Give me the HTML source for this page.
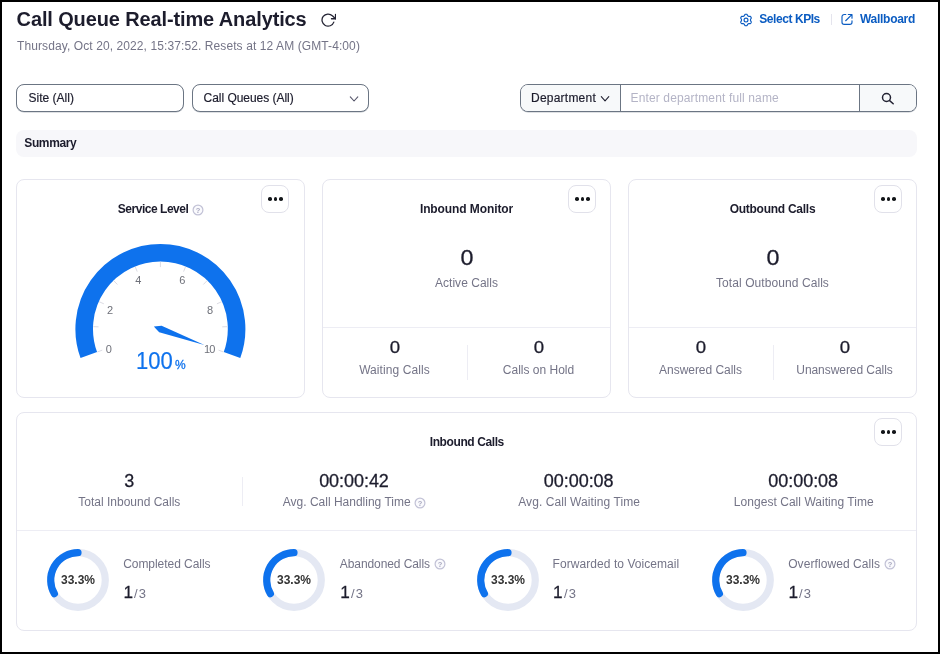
<!DOCTYPE html>
<html lang="en">
<head>
<meta charset="utf-8">
<title>Call Queue Real-time Analytics</title>
<style>
*{box-sizing:border-box;margin:0;padding:0}
html,body{width:940px;height:654px;overflow:hidden;background:#fff}
body{font-family:"Liberation Sans",sans-serif;color:#1c1c2c;position:relative}
.frame{position:absolute;left:0;top:0;width:940px;height:654px;border:2px solid #000;z-index:50;pointer-events:none}
.a{position:absolute}
.t{position:absolute;white-space:nowrap;color:#1c1c2c}
.m{-webkit-text-stroke:0.28px currentColor}
.d{-webkit-text-stroke:0.18px currentColor}
.box{position:absolute;top:84px;height:28px;border:1px solid #6b7583;border-radius:8px;background:#fff;box-shadow:0 .5px 0 rgba(107,117,131,.45)}
.card{position:absolute;border:1px solid #e6e6ef;border-radius:8px;background:#fff}
.more{position:absolute;width:28px;height:28px;border:1px solid #e1e1ea;border-radius:8px;background:#fff}
.more i{position:absolute;top:11.300px;width:3.600px;height:3.600px;border-radius:50%;background:#131619}
</style>
</head>
<body>
<div class="t" style="top:9.07px;font-size:20px;line-height:20px;font-weight:700;letter-spacing:-0.127px;left:16.6px;transform:scaleY(1.05);transform-origin:0 84.650%;">Call Queue Real-time Analytics</div>
<svg class="a" style="left:319.800px;top:11.900px" width="16.200" height="16.200" viewBox="0 0 24 24" fill="none" stroke="#232333" stroke-width="1.900" stroke-linecap="round" stroke-linejoin="round"><path d="M23 3.500V10H17"/><path d="M20.490 15a9 9 0 1 1-2.120-9.360L23 10"/></svg>
<div class="t" style="top:39.84px;font-size:12px;line-height:12px;color:#747487;letter-spacing:0.095px;left:17px;">Thursday, Oct 20, 2022, 15:37:52. Resets at 12 AM (GMT-4:00)</div>
<svg class="a" style="left:739px;top:12.600px" width="14" height="14" viewBox="0 0 14 14" fill="none" stroke="#0b5cc2" stroke-width="1.150" stroke-linejoin="round"><path d="M11.50 7.00L11.50 6.71L11.51 6.41L11.62 6.08L11.95 5.67L12.24 5.22L12.26 4.82L12.14 4.46L11.97 4.13L11.77 3.82L11.52 3.54L11.16 3.35L10.62 3.38L10.10 3.46L9.77 3.39L9.50 3.25L9.25 3.10L8.99 2.96L8.74 2.80L8.51 2.54L8.33 2.05L8.08 1.57L7.74 1.36L7.37 1.28L7.00 1.26L6.63 1.28L6.26 1.36L5.92 1.57L5.67 2.05L5.49 2.54L5.26 2.80L5.01 2.96L4.75 3.10L4.50 3.25L4.23 3.39L3.90 3.46L3.38 3.38L2.84 3.35L2.48 3.54L2.23 3.82L2.03 4.13L1.86 4.46L1.74 4.82L1.76 5.22L2.05 5.67L2.38 6.08L2.49 6.41L2.50 6.71L2.50 7.00L2.50 7.29L2.49 7.59L2.38 7.92L2.05 8.33L1.76 8.78L1.74 9.18L1.86 9.54L2.03 9.87L2.23 10.18L2.48 10.46L2.84 10.65L3.38 10.62L3.90 10.54L4.23 10.61L4.50 10.75L4.75 10.90L5.01 11.04L5.26 11.20L5.49 11.46L5.67 11.95L5.92 12.43L6.26 12.64L6.63 12.72L7.00 12.74L7.37 12.72L7.74 12.64L8.08 12.43L8.33 11.95L8.51 11.46L8.74 11.20L8.99 11.04L9.25 10.90L9.50 10.75L9.77 10.61L10.10 10.54L10.62 10.62L11.16 10.65L11.52 10.46L11.77 10.18L11.97 9.87L12.14 9.54L12.26 9.18L12.24 8.78L11.95 8.33L11.62 7.92L11.51 7.59L11.50 7.29Z"/><circle cx="7" cy="7" r="1.950"/></svg>
<div class="t" style="top:12.94px;font-size:12px;line-height:12px;font-weight:700;color:#0b5cc2;letter-spacing:-0.44px;left:759.3px;">Select KPIs</div>
<div class="a" style="left:831px;top:14px;width:1px;height:11px;background:#e4e4ed"></div>
<svg class="a" style="left:840px;top:12px" width="14" height="14" viewBox="0 0 14 14" fill="none" stroke="#0b5cc2" stroke-width="1.150" stroke-linecap="round" stroke-linejoin="round"><path d="M5.800 2.450H4.200A2.200 2.200 0 0 0 2 4.650V10.200A2.200 2.200 0 0 0 4.200 12.400H9.800A2.200 2.200 0 0 0 12 10.200V8.700"/><path d="M8.300 2.450H12V6.200M11.800 2.650 5.700 8.750"/></svg>
<div class="t" style="top:12.94px;font-size:12px;line-height:12px;font-weight:700;color:#0b5cc2;letter-spacing:-0.285px;left:860px;">Wallboard</div>
<div class="box" style="left:16px;width:168px"></div>
<div class="t d" style="top:91.84px;font-size:12px;line-height:12px;left:28.6px;">Site (All)</div>
<div class="box" style="left:192px;width:177px"></div>
<div class="t d" style="top:91.84px;font-size:12px;line-height:12px;letter-spacing:-0.04px;left:203.6px;">Call Queues (All)</div>
<svg class="a" style="left:348px;top:94px" width="12" height="10" viewBox="0 0 12 10" fill="none" stroke="#55556a" stroke-width="1.100" stroke-linecap="round" stroke-linejoin="round"><path d="M2.300 2.900 6.050 7l3.750-4.100"/></svg>
<div class="box" style="left:520px;width:397px;overflow:hidden"><div class="a" style="left:0;top:0;width:99px;height:26px;background:#f7f9fa"></div><div class="a" style="left:99px;top:0;width:1px;height:26px;background:#6b7583"></div><div class="a" style="left:338px;top:0;width:1px;height:26px;background:#6b7583"></div><div class="a" style="left:339px;top:0;width:57px;height:26px;background:#f7f9fa"></div></div>
<div class="t d" style="top:91.84px;font-size:12px;line-height:12px;letter-spacing:0.23px;left:531px;">Department</div>
<svg class="a" style="left:598.800px;top:93.700px" width="12" height="10" viewBox="0 0 12 10" fill="none" stroke="#232333" stroke-width="1.100" stroke-linecap="round" stroke-linejoin="round"><path d="M2.300 2.700 6.050 6.800l3.750-4.100"/></svg>
<div class="t" style="top:91.84px;font-size:12px;line-height:12px;color:#b4b4c6;letter-spacing:0.14px;left:630.5px;">Enter department full name</div>
<svg class="a" style="left:880px;top:91px" width="16" height="16" viewBox="0 0 16 16" fill="none" stroke="#232333" stroke-width="1.500" stroke-linecap="round"><circle cx="6.500" cy="6.500" r="4"/><path d="M9.600 9.600 13.200 12.700"/></svg>
<div class="a" style="left:16px;top:130px;width:901px;height:27px;background:#f7f7fa;border-radius:8px"></div>
<div class="t" style="top:136.64px;font-size:12px;line-height:12px;font-weight:700;letter-spacing:-0.386px;left:24.3px;">Summary</div>
<div class="card" style="left:16px;top:179px;width:289px;height:219px"></div>
<div class="more" style="left:261px;top:185px"><i style="left:6.100px"></i><i style="left:11.700px"></i><i style="left:17.400px"></i></div>
<div class="t" style="top:202.84px;font-size:12px;line-height:12px;font-weight:700;letter-spacing:-0.472px;left:117.8px;">Service Level</div>
<svg class="a" style="left:190.7px;top:202.6px" width="14" height="14" viewBox="0 0 14 14"><circle cx="7" cy="7" r="4.900" fill="#fafafd" stroke="#c2c2d6" stroke-width="1.200"/><text x="7" y="9.700" font-size="7.500" font-weight="700" text-anchor="middle" fill="#a9a9c0" font-family="Liberation Sans, sans-serif">?</text></svg>
<svg class="a" style="left:0;top:0" width="940" height="654" viewBox="0 0 940 654"><path d="M88.80 355.06A76.20 76.20 0 1 1 232.00 355.06" fill="none" stroke="#0e72ed" stroke-width="17.6"/><path d="M97.35 351.95L102.23 350.17" stroke="#dcdce4" stroke-width="1"/><path d="M93.34 326.66L98.54 326.84" stroke="#dcdce4" stroke-width="1"/><path d="M99.10 301.71L103.85 303.82" stroke="#dcdce4" stroke-width="1"/><path d="M113.79 280.73L117.40 284.47" stroke="#dcdce4" stroke-width="1"/><path d="M135.26 266.79L137.21 271.61" stroke="#dcdce4" stroke-width="1"/><path d="M160.40 261.90L160.40 267.10" stroke="#dcdce4" stroke-width="1"/><path d="M185.54 266.79L183.59 271.61" stroke="#dcdce4" stroke-width="1"/><path d="M207.01 280.73L203.40 284.47" stroke="#dcdce4" stroke-width="1"/><path d="M221.70 301.71L216.95 303.82" stroke="#dcdce4" stroke-width="1"/><path d="M227.46 326.66L222.26 326.84" stroke="#dcdce4" stroke-width="1"/><path d="M223.45 351.95L218.57 350.17" stroke="#dcdce4" stroke-width="1"/><text x="108.9" y="352.9" font-size="11" text-anchor="middle" fill="#6e7079" font-family="Liberation Sans, sans-serif">0</text><text x="110.1" y="314.09999999999997" font-size="11" text-anchor="middle" fill="#6e7079" font-family="Liberation Sans, sans-serif">2</text><text x="138.2" y="284.0" font-size="11" text-anchor="middle" fill="#6e7079" font-family="Liberation Sans, sans-serif">4</text><text x="182.2" y="284.0" font-size="11" text-anchor="middle" fill="#6e7079" font-family="Liberation Sans, sans-serif">6</text><text x="210.1" y="314.09999999999997" font-size="11" text-anchor="middle" fill="#6e7079" font-family="Liberation Sans, sans-serif">8</text><text x="209.3" y="352.9" font-size="11" text-anchor="middle" fill="#6e7079" font-family="Liberation Sans, sans-serif" letter-spacing="-0.800">10</text><path d="M153.82 326.61L159.20 332.29L204.38 345.01L161.60 325.71Z" fill="#0e72ed"/></svg>
<div class="t d" style="top:349.81px;font-size:23.5px;line-height:23.5px;color:#0e72ed;left:135.5px;transform:scaleX(0.938);transform-origin:0 50%;">100</div>
<div class="t m" style="top:359.34px;font-size:12px;line-height:12px;color:#0e72ed;left:175.1px;">%</div>
<div class="card" style="left:322px;top:179px;width:289px;height:219px"><div class="a" style="left:0;top:147px;width:287px;height:1px;background:#ededf4"></div><div class="a" style="left:144px;top:165px;width:1px;height:35px;background:#ededf4"></div></div>
<div class="more" style="left:568px;top:185px"><i style="left:6.100px"></i><i style="left:11.700px"></i><i style="left:17.400px"></i></div>
<div class="t" style="top:202.84px;font-size:12px;line-height:12px;font-weight:700;letter-spacing:-0.096px;left:266.5px;width:400px;text-align:center;">Inbound Monitor</div>
<div class="t m" style="top:246.78px;font-size:22px;line-height:22px;left:266.5px;width:400px;text-align:center;transform:scaleX(1.06);">0</div>
<div class="t" style="top:276.94px;font-size:12px;line-height:12px;color:#747487;letter-spacing:0.034px;left:266.5px;width:400px;text-align:center;">Active Calls</div>
<div class="t m" style="top:339.47px;font-size:17.4px;line-height:17.4px;left:194.5px;width:400px;text-align:center;transform:scaleX(1.07);">0</div>
<div class="t m" style="top:339.47px;font-size:17.4px;line-height:17.4px;left:338.5px;width:400px;text-align:center;transform:scaleX(1.07);">0</div>
<div class="t" style="top:363.84px;font-size:12px;line-height:12px;color:#747487;letter-spacing:0.086px;left:194.5px;width:400px;text-align:center;">Waiting Calls</div>
<div class="t" style="top:363.84px;font-size:12px;line-height:12px;color:#747487;left:338.5px;width:400px;text-align:center;">Calls on Hold</div>
<div class="card" style="left:628px;top:179px;width:289px;height:219px"><div class="a" style="left:0;top:147px;width:287px;height:1px;background:#ededf4"></div><div class="a" style="left:144px;top:165px;width:1px;height:35px;background:#ededf4"></div></div>
<div class="more" style="left:874px;top:185px"><i style="left:6.100px"></i><i style="left:11.700px"></i><i style="left:17.400px"></i></div>
<div class="t" style="top:202.84px;font-size:12px;line-height:12px;font-weight:700;letter-spacing:-0.259px;left:572.5px;width:400px;text-align:center;">Outbound Calls</div>
<div class="t m" style="top:246.78px;font-size:22px;line-height:22px;left:572.5px;width:400px;text-align:center;transform:scaleX(1.06);">0</div>
<div class="t" style="top:276.94px;font-size:12px;line-height:12px;color:#747487;letter-spacing:0.075px;left:572.5px;width:400px;text-align:center;">Total Outbound Calls</div>
<div class="t m" style="top:339.47px;font-size:17.4px;line-height:17.4px;left:500.5px;width:400px;text-align:center;transform:scaleX(1.07);">0</div>
<div class="t m" style="top:339.47px;font-size:17.4px;line-height:17.4px;left:644.5px;width:400px;text-align:center;transform:scaleX(1.07);">0</div>
<div class="t" style="top:363.84px;font-size:12px;line-height:12px;color:#747487;letter-spacing:-0.041px;left:500.5px;width:400px;text-align:center;">Answered Calls</div>
<div class="t" style="top:363.84px;font-size:12px;line-height:12px;color:#747487;letter-spacing:-0.062px;left:644.5px;width:400px;text-align:center;">Unanswered Calls</div>
<div class="card" style="left:16px;top:412px;width:901px;height:219px"><div class="a" style="left:0;top:117px;width:899px;height:1px;background:#ededf4"></div><div class="a" style="left:225px;top:64px;width:1px;height:29px;background:#ededf4"></div></div>
<div class="more" style="left:874px;top:418px"><i style="left:6.100px"></i><i style="left:11.700px"></i><i style="left:17.400px"></i></div>
<div class="t" style="top:436.14px;font-size:12px;line-height:12px;font-weight:700;letter-spacing:-0.396px;left:266.8px;width:400px;text-align:center;">Inbound Calls</div>
<div class="t m" style="top:471.66px;font-size:18px;line-height:18px;left:-70.69999999999999px;width:400px;text-align:center;">3</div>
<div class="t" style="top:495.84px;font-size:12px;line-height:12px;color:#747487;left:-70.69999999999999px;width:400px;text-align:center;">Total Inbound Calls</div>
<div class="t m" style="top:471.66px;font-size:18px;line-height:18px;letter-spacing:-0.05px;left:154px;width:400px;text-align:center;">00:00:42</div>
<div class="t" style="top:495.84px;font-size:12px;line-height:12px;color:#747487;left:146.7px;width:400px;text-align:center;">Avg. Call Handling Time</div>
<svg class="a" style="left:413.2px;top:495.6px" width="14" height="14" viewBox="0 0 14 14"><circle cx="7" cy="7" r="4.900" fill="#fafafd" stroke="#c2c2d6" stroke-width="1.200"/><text x="7" y="9.700" font-size="7.500" font-weight="700" text-anchor="middle" fill="#a9a9c0" font-family="Liberation Sans, sans-serif">?</text></svg>
<div class="t m" style="top:471.66px;font-size:18px;line-height:18px;letter-spacing:-0.05px;left:378.70000000000005px;width:400px;text-align:center;">00:00:08</div>
<div class="t" style="top:495.84px;font-size:12px;line-height:12px;color:#747487;letter-spacing:0.08px;left:379.1px;width:400px;text-align:center;">Avg. Call Waiting Time</div>
<div class="t m" style="top:471.66px;font-size:18px;line-height:18px;letter-spacing:-0.05px;left:603.2px;width:400px;text-align:center;">00:00:08</div>
<div class="t" style="top:495.84px;font-size:12px;line-height:12px;color:#747487;letter-spacing:0.038px;left:603.8px;width:400px;text-align:center;">Longest Call Waiting Time</div>
<svg class="a" style="left:41.8px;top:544.3px" width="72" height="72" viewBox="41.8 544.3 72 72"><circle cx="77.8" cy="580.3" r="27.3" fill="none" stroke="#e4e8f3" stroke-width="7.2"/><path d="M77.8 553.0A27.3 27.3 0 0 0 54.16 593.95" fill="none" stroke="#0e72ed" stroke-width="7.2" stroke-linecap="round"/><text x="77.8" y="584.5" font-size="12" font-weight="700" text-anchor="middle" fill="#333" font-family="Liberation Sans, sans-serif">33.3%</text></svg>
<div class="t" style="top:557.84px;font-size:12px;line-height:12px;color:#747487;letter-spacing:-0.05px;left:123.2px;">Completed Calls</div>
<div class="t m" style="top:584.44px;font-size:17.2px;line-height:17.2px;left:123.60000000000001px;">1</div>
<div class="t" style="top:588.14px;font-size:12px;line-height:12px;color:#747487;letter-spacing:1.0px;left:134.1px;transform:scaleX(1.08);transform-origin:0 50%;">/3</div>
<svg class="a" style="left:257.9px;top:544.3px" width="72" height="72" viewBox="257.9 544.3 72 72"><circle cx="293.9" cy="580.3" r="27.3" fill="none" stroke="#e4e8f3" stroke-width="7.2"/><path d="M293.9 553.0A27.3 27.3 0 0 0 270.26 593.95" fill="none" stroke="#0e72ed" stroke-width="7.2" stroke-linecap="round"/><text x="293.9" y="584.5" font-size="12" font-weight="700" text-anchor="middle" fill="#333" font-family="Liberation Sans, sans-serif">33.3%</text></svg>
<div class="t" style="top:557.84px;font-size:12px;line-height:12px;color:#747487;letter-spacing:-0.087px;left:339.8px;">Abandoned Calls</div>
<div class="t m" style="top:584.44px;font-size:17.2px;line-height:17.2px;left:340.2px;">1</div>
<div class="t" style="top:588.14px;font-size:12px;line-height:12px;color:#747487;letter-spacing:1.0px;left:350.7px;transform:scaleX(1.08);transform-origin:0 50%;">/3</div>
<svg class="a" style="left:432.6px;top:557.3px" width="14" height="14" viewBox="0 0 14 14"><circle cx="7" cy="7" r="4.900" fill="#fafafd" stroke="#c2c2d6" stroke-width="1.200"/><text x="7" y="9.700" font-size="7.500" font-weight="700" text-anchor="middle" fill="#a9a9c0" font-family="Liberation Sans, sans-serif">?</text></svg>
<svg class="a" style="left:471.9px;top:544.3px" width="72" height="72" viewBox="471.9 544.3 72 72"><circle cx="507.9" cy="580.3" r="27.3" fill="none" stroke="#e4e8f3" stroke-width="7.2"/><path d="M507.9 553.0A27.3 27.3 0 0 0 484.26 593.95" fill="none" stroke="#0e72ed" stroke-width="7.2" stroke-linecap="round"/><text x="507.9" y="584.5" font-size="12" font-weight="700" text-anchor="middle" fill="#333" font-family="Liberation Sans, sans-serif">33.3%</text></svg>
<div class="t" style="top:557.84px;font-size:12px;line-height:12px;color:#747487;letter-spacing:0.06px;left:552.6px;">Forwarded to Voicemail</div>
<div class="t m" style="top:584.44px;font-size:17.2px;line-height:17.2px;left:553.0px;">1</div>
<div class="t" style="top:588.14px;font-size:12px;line-height:12px;color:#747487;letter-spacing:1.0px;left:563.5px;transform:scaleX(1.08);transform-origin:0 50%;">/3</div>
<svg class="a" style="left:707.0px;top:544.3px" width="72" height="72" viewBox="707.0 544.3 72 72"><circle cx="743.0" cy="580.3" r="27.3" fill="none" stroke="#e4e8f3" stroke-width="7.2"/><path d="M743.0 553.0A27.3 27.3 0 0 0 719.36 593.95" fill="none" stroke="#0e72ed" stroke-width="7.2" stroke-linecap="round"/><text x="743.0" y="584.5" font-size="12" font-weight="700" text-anchor="middle" fill="#333" font-family="Liberation Sans, sans-serif">33.3%</text></svg>
<div class="t" style="top:557.84px;font-size:12px;line-height:12px;color:#747487;letter-spacing:0.075px;left:788.2px;">Overflowed Calls</div>
<div class="t m" style="top:584.44px;font-size:17.2px;line-height:17.2px;left:788.6px;">1</div>
<div class="t" style="top:588.14px;font-size:12px;line-height:12px;color:#747487;letter-spacing:1.0px;left:799.1px;transform:scaleX(1.08);transform-origin:0 50%;">/3</div>
<svg class="a" style="left:882.6px;top:557.3px" width="14" height="14" viewBox="0 0 14 14"><circle cx="7" cy="7" r="4.900" fill="#fafafd" stroke="#c2c2d6" stroke-width="1.200"/><text x="7" y="9.700" font-size="7.500" font-weight="700" text-anchor="middle" fill="#a9a9c0" font-family="Liberation Sans, sans-serif">?</text></svg>
<div class="frame"></div>
</body>
</html>
